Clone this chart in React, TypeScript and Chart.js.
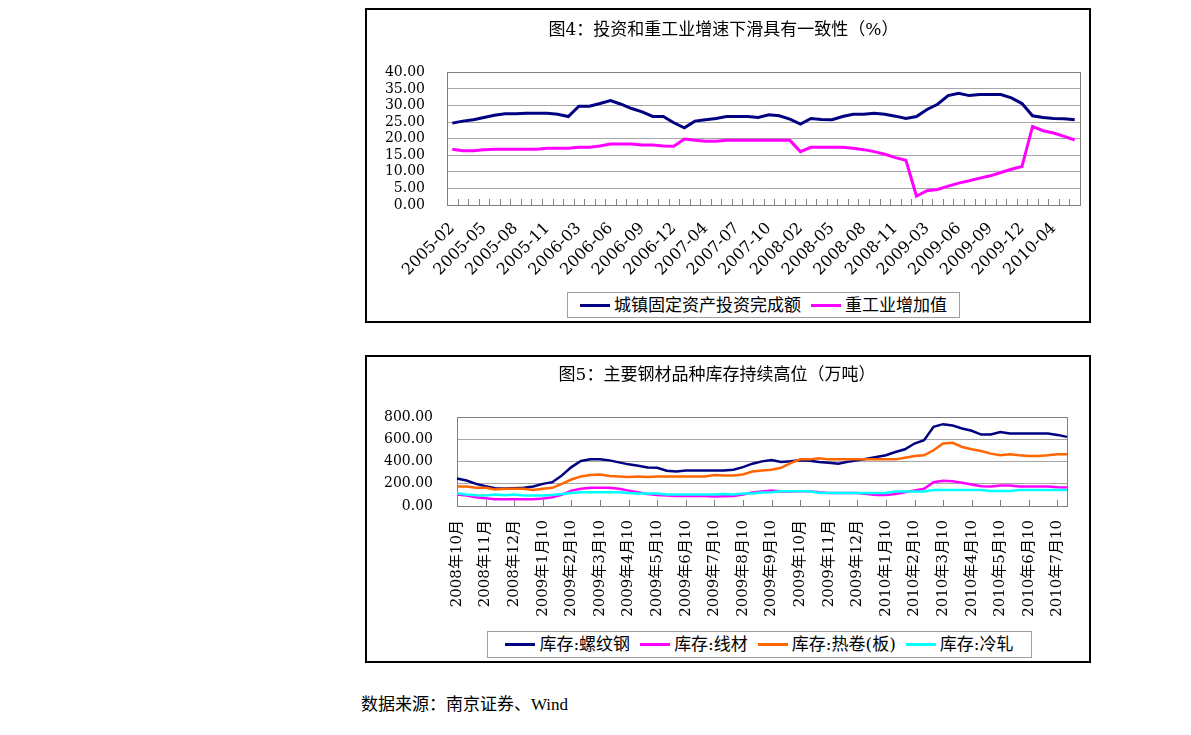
import { useEffect, useRef } from 'react';
import { Chart, registerables, type ChartConfiguration, type Plugin } from 'chart.js';

Chart.register(...registerables);

// ── Tokens ─────────────────────────────────────────────────────────────────────

const C = {
  navy:    '#000080',
  magenta: '#ff00ff',
  orange:  '#ff6600',
  cyan:    '#00ffff',
  grid:    '#a6a6a6',
  frame:   '#808080',
  text:    '#000000',
} as const;

const SERIF = '"DejaVu Serif", "Noto Sans CJK SC", serif';

// ── Chart 4 data (monthly, January merged into February) ───────────────────────

const TITLE_1 = '图4：投资和重工业增速下滑具有一致性（%）';

const CATS_1 = [
  '2005-02', '2005-03', '2005-04', '2005-05', '2005-06', '2005-07', '2005-08', '2005-09', '2005-10', '2005-11', '2005-12',
  '2006-02', '2006-03', '2006-04', '2006-05', '2006-06', '2006-07', '2006-08', '2006-09', '2006-10', '2006-11', '2006-12',
  '2007-02', '2007-03', '2007-04', '2007-05', '2007-06', '2007-07', '2007-08', '2007-09', '2007-10', '2007-11', '2007-12',
  '2008-02', '2008-03', '2008-04', '2008-05', '2008-06', '2008-07', '2008-08', '2008-09', '2008-10', '2008-11', '2008-12',
  '2009-02', '2009-03', '2009-04', '2009-05', '2009-06', '2009-07', '2009-08', '2009-09', '2009-10', '2009-11', '2009-12',
  '2010-02', '2010-03', '2010-04', '2010-05', '2010-06',
];

const FAI = [
  24.7, 25.3, 25.7, 26.4, 27.1, 27.5, 27.5, 27.7, 27.7, 27.7,
  27.4, 26.7, 29.8, 29.8, 30.6, 31.5, 30.4, 29.1, 28.1, 26.7,
  26.7, 24.8, 23.3, 25.3, 25.7, 26.1, 26.7, 26.7, 26.7, 26.4,
  27.2, 26.9, 25.9, 24.4, 26.1, 25.8, 25.7, 26.7, 27.4, 27.4,
  27.7, 27.4, 26.8, 26.1, 26.7, 28.8, 30.4, 33.0, 33.7, 33.0,
  33.3, 33.3, 33.3, 32.3, 30.6, 26.9, 26.4, 26.1, 26.0, 25.7,
];

const HEAVY = [
  16.8, 16.4, 16.4, 16.7, 16.8, 16.8, 16.8, 16.8, 16.8, 17.1,
  17.1, 17.1, 17.4, 17.4, 17.8, 18.4, 18.4, 18.4, 18.1, 18.1,
  17.8, 17.7, 19.9, 19.5, 19.2, 19.2, 19.5, 19.5, 19.5, 19.5,
  19.5, 19.5, 19.5, 16.1, 17.4, 17.4, 17.4, 17.4, 17.1, 16.7,
  16.1, 15.3, 14.3, 13.5, 2.7, 4.3, 4.7, 5.7, 6.6, 7.3,
  8.1, 8.8, 9.8, 10.8, 11.6, 23.7, 22.4, 21.7, 20.7, 19.6,
];

const SERIES_1 = [
  { label: '城镇固定资产投资完成额', data: FAI,   color: C.navy },
  { label: '重工业增加值',           data: HEAVY, color: C.magenta },
];

// ── Chart 5 data (every ten days) ──────────────────────────────────────────────

const TITLE_2 = '图5：主要钢材品种库存持续高位（万吨）';

const CATS_2 = [
  '2008-10-10', '2008-10-20', '2008-10-31', '2008-11-10', '2008-11-20', '2008-11-30', '2008-12-10', '2008-12-20', '2008-12-31',
  '2009-01-10', '2009-01-20', '2009-01-31', '2009-02-10', '2009-02-20', '2009-02-28', '2009-03-10', '2009-03-20', '2009-03-31',
  '2009-04-10', '2009-04-20', '2009-04-30', '2009-05-10', '2009-05-20', '2009-05-31', '2009-06-10', '2009-06-20', '2009-06-30',
  '2009-07-10', '2009-07-20', '2009-07-31', '2009-08-10', '2009-08-20', '2009-08-31', '2009-09-10', '2009-09-20', '2009-09-30',
  '2009-10-10', '2009-10-20', '2009-10-31', '2009-11-10', '2009-11-20', '2009-11-30', '2009-12-10', '2009-12-20', '2009-12-31',
  '2010-01-10', '2010-01-20', '2010-01-31', '2010-02-10', '2010-02-20', '2010-02-28', '2010-03-10', '2010-03-20', '2010-03-31',
  '2010-04-10', '2010-04-20', '2010-04-30', '2010-05-10', '2010-05-20', '2010-05-31', '2010-06-10', '2010-06-20', '2010-06-30',
  '2010-07-10', '2010-07-20',
];

const TICKS_2 = [
  '2008年10月', '2008年11月', '2008年12月',
  '2009年1月10', '2009年2月10', '2009年3月10', '2009年4月10', '2009年5月10', '2009年6月10',
  '2009年7月10', '2009年8月10', '2009年9月10', '2009年10月', '2009年11月', '2009年12月',
  '2010年1月10', '2010年2月10', '2010年3月10', '2010年4月10', '2010年5月10', '2010年6月10', '2010年7月10',
];

const REBAR = [
  248, 230, 200, 179, 161, 158, 161, 164, 176, 200,
  215, 276, 351, 406, 421, 421, 412, 394, 376, 364,
  348, 345, 318, 312, 321, 321, 321, 321, 321, 327,
  351, 382, 403, 415, 397, 403, 412, 409, 397, 391,
  382, 400, 412, 427, 442, 458, 488, 512, 564, 594,
  715, 739, 727, 700, 679, 645, 645, 667, 654, 654,
  654, 654, 654, 642, 624,
];

const WIRE = [
  103, 94, 79, 70, 61, 61, 61, 61, 61, 67,
  79, 100, 139, 155, 164, 164, 164, 155, 139, 124,
  109, 100, 94, 91, 91, 91, 91, 85, 88, 91,
  103, 121, 130, 139, 130, 130, 133, 133, 124, 118,
  118, 118, 118, 109, 100, 100, 109, 124, 139, 155,
  215, 227, 224, 209, 194, 179, 176, 185, 185, 176,
  176, 176, 176, 170, 167,
];

const HOT_COIL = [
  176, 176, 164, 164, 150, 155, 155, 155, 145, 155,
  164, 200, 239, 267, 279, 285, 270, 267, 261, 267,
  261, 267, 267, 267, 267, 267, 267, 279, 276, 276,
  285, 312, 321, 327, 345, 388, 421, 421, 430, 421,
  421, 421, 421, 421, 421, 421, 421, 436, 451, 458,
  503, 564, 570, 533, 512, 497, 473, 458, 467, 458,
  451, 451, 458, 467, 467,
];

const COLD_ROLL = [
  115, 103, 97, 94, 103, 97, 103, 94, 94, 94,
  100, 109, 118, 124, 124, 124, 124, 124, 118, 112,
  112, 112, 103, 103, 103, 103, 103, 103, 109, 103,
  112, 112, 121, 124, 133, 133, 133, 133, 118, 118,
  118, 118, 118, 118, 118, 118, 130, 130, 130, 130,
  145, 145, 145, 145, 145, 145, 136, 136, 136, 145,
  145, 145, 145, 145, 145,
];

const SERIES_2 = [
  { label: '库存:螺纹钢',   data: REBAR,     color: C.navy },
  { label: '库存:线材',     data: WIRE,      color: C.magenta },
  { label: '库存:热卷(板)', data: HOT_COIL,  color: C.orange },
  { label: '库存:冷轧',     data: COLD_ROLL, color: C.cyan },
];

// ── Plot frame + inward category ticks ─────────────────────────────────────────

const plotFrame: Plugin<'line'> = {
  id: 'plotFrame',
  beforeDatasetsDraw(chart, _args, opts: any) {
    const { ctx, chartArea: a, scales } = chart;
    const x = scales.x;
    ctx.save();
    ctx.strokeStyle = C.frame;
    ctx.lineWidth = 1;
    ctx.beginPath();
    const n = chart.data.labels?.length ?? 0;
    for (let i = 1; i < n; i++) {
      let px: number;
      if (opts.between) {
        px = (x.getPixelForValue(i - 1) + x.getPixelForValue(i)) / 2;
      } else {
        if (i % opts.every !== 0) continue;
        px = x.getPixelForValue(i);
      }
      px = Math.round(px) + 0.5;
      ctx.moveTo(px, a.bottom);
      ctx.lineTo(px, a.bottom - 6);
    }
    ctx.stroke();
    ctx.strokeRect(Math.round(a.left) + 0.5, Math.round(a.top) + 0.5, Math.round(a.width), Math.round(a.height));
    ctx.restore();
  },
};

function datasets(series: { label: string; data: number[]; color: string }[], width: number) {
  return series.map((s, i) => ({
    label:           s.label,
    data:            s.data,
    borderColor:     s.color,
    backgroundColor: s.color,
    borderWidth:     width,
    pointRadius:     0,
    tension:         0,
    order:           series.length - i,
  }));
}

const tickFont = (size: number) => ({ family: SERIF, size, weight: 'normal' as const });

// the x scale would otherwise reserve room for its rotated labels on both sides
function fixX(height: number) {
  return (s: any) => {
    s.height = height;
    s.paddingLeft = 0;
    s.paddingRight = 0;
  };
}

const CONFIG_1: ChartConfiguration<'line'> = {
  type: 'line',
  data: { labels: CATS_1, datasets: datasets(SERIES_1, 3) },
  plugins: [plotFrame],
  options: {
    responsive: true,
    maintainAspectRatio: false,
    animation: false,
    layout: { padding: { left: 0, right: 9, top: 0, bottom: 36 } },
    plugins: {
      legend:  { display: false },
      tooltip: { enabled: false },
      title: {
        display: true,
        text:    TITLE_1,
        color:   C.text,
        font:    { family: SERIF, size: 17, weight: 'normal' },
        padding: { top: 10, bottom: 32 },
      },
      plotFrame: { between: true },
    } as any,
    scales: {
      x: {
        offset: true,
        grid:   { display: false, drawTicks: false },
        border: { display: false },
        ticks: {
          autoSkip:    false,
          minRotation: 45,
          maxRotation: 45,
          padding:     14,
          color:       C.text,
          font:        tickFont(16),
          callback:    (_v, i) => (i % 3 === 0 ? CATS_1[i] : ''),
        },
        afterFit: fixX(80),
      },
      y: {
        min: 0,
        max: 40,
        grid:   { color: C.grid, drawTicks: false },
        border: { display: false },
        ticks: {
          stepSize: 5,
          autoSkip: false,
          padding:  22,
          color:    C.text,
          font:     tickFont(14),
          callback: (v) => Number(v).toFixed(2),
        },
        afterFit: (s) => { s.width = 80; },
      },
    },
  },
};

const CONFIG_2: ChartConfiguration<'line'> = {
  type: 'line',
  data: { labels: CATS_2, datasets: datasets(SERIES_2, 2.5) },
  plugins: [plotFrame],
  options: {
    responsive: true,
    maintainAspectRatio: false,
    animation: false,
    layout: { padding: { left: 0, right: 22, top: 0, bottom: 35 } },
    plugins: {
      legend:  { display: false },
      tooltip: { enabled: false },
      title: {
        display: true,
        text:    TITLE_2,
        color:   C.text,
        font:    { family: SERIF, size: 17, weight: 'normal' },
        padding: { top: 8, bottom: 32 },
      },
      plotFrame: { between: false, every: 3 },
    } as any,
    scales: {
      x: {
        offset: false,
        grid:   { display: false, drawTicks: false },
        border: { display: false },
        ticks: {
          autoSkip:    false,
          minRotation: 90,
          maxRotation: 90,
          padding:     14,
          color:       C.text,
          font:        tickFont(15),
          callback:    (_v, i) => (i % 3 === 0 ? TICKS_2[i / 3] ?? '' : ''),
        },
        afterFit: fixX(120),
      },
      y: {
        min: 0,
        max: 800,
        grid:   { color: C.grid, drawTicks: false },
        border: { display: false },
        ticks: {
          stepSize: 200,
          autoSkip: false,
          padding:  24,
          color:    C.text,
          font:     tickFont(14),
          callback: (v) => Number(v).toFixed(2),
        },
        afterFit: (s) => { s.width = 90; },
      },
    },
  },
};

// ── Pieces ─────────────────────────────────────────────────────────────────────

function LineCanvas({ config }: { config: ChartConfiguration<'line'> }) {
  const canvasRef = useRef<HTMLCanvasElement>(null);

  useEffect(() => {
    if (!canvasRef.current) return;
    const chart = new Chart(canvasRef.current, config);
    return () => { chart.destroy(); };
  }, [config]);

  return <canvas ref={canvasRef} />;
}

function Legend({ series, box }: {
  series: { label: string; color: string }[];
  box: { left: number; top: number; width: number; height: number };
}) {
  return (
    <div style={{
      position:       'absolute',
      ...box,
      boxSizing:      'border-box',
      border:         '1px solid #a0a0a0',
      background:     '#fff',
      display:        'flex',
      alignItems:     'center',
      justifyContent: 'center',
      gap:            10,
      fontFamily:     SERIF,
      fontSize:       17,
      lineHeight:     1,
      color:          C.text,
      whiteSpace:     'nowrap',
    }}>
      {series.map((s) => (
        <span key={s.label} style={{ display: 'flex', alignItems: 'center', gap: 4 }}>
          <span style={{ display: 'inline-block', width: 30, height: 3, background: s.color }} />
          {s.label}
        </span>
      ))}
    </div>
  );
}

function Panel({ top, height, config, children }: {
  top: number; height: number; config: ChartConfiguration<'line'>; children?: React.ReactNode;
}) {
  return (
    <div style={{
      position:  'absolute',
      left:      365,
      top,
      width:     726,
      height,
      boxSizing: 'border-box',
      border:    '2px solid #000',
      background: '#fff',
    }}>
      <div style={{ position: 'absolute', left: 0, top: 0, width: 722, height: height - 4 }}>
        <LineCanvas config={config} />
      </div>
      {children}
    </div>
  );
}

// ── Page ───────────────────────────────────────────────────────────────────────

export default function App() {
  return (
    <div style={{ position: 'absolute', left: 0, top: 0, width: 1191, height: 735, background: '#fff' }}>
      <Panel top={8} height={315} config={CONFIG_1}>
        <Legend series={SERIES_1} box={{ left: 200, top: 282, width: 393, height: 26 }} />
      </Panel>
      <Panel top={355} height={308} config={CONFIG_2}>
        <Legend series={SERIES_2} box={{ left: 120, top: 274, width: 545, height: 27 }} />
      </Panel>
      <div style={{
        position:   'absolute',
        left:       361,
        top:        695,
        fontFamily: '"Liberation Serif", "Noto Sans CJK SC", serif',
        fontSize:   17,
        lineHeight: '20px',
        color:      C.text,
        whiteSpace: 'nowrap',
      }}>
        数据来源：南京证券、Wind
      </div>
    </div>
  );
}
